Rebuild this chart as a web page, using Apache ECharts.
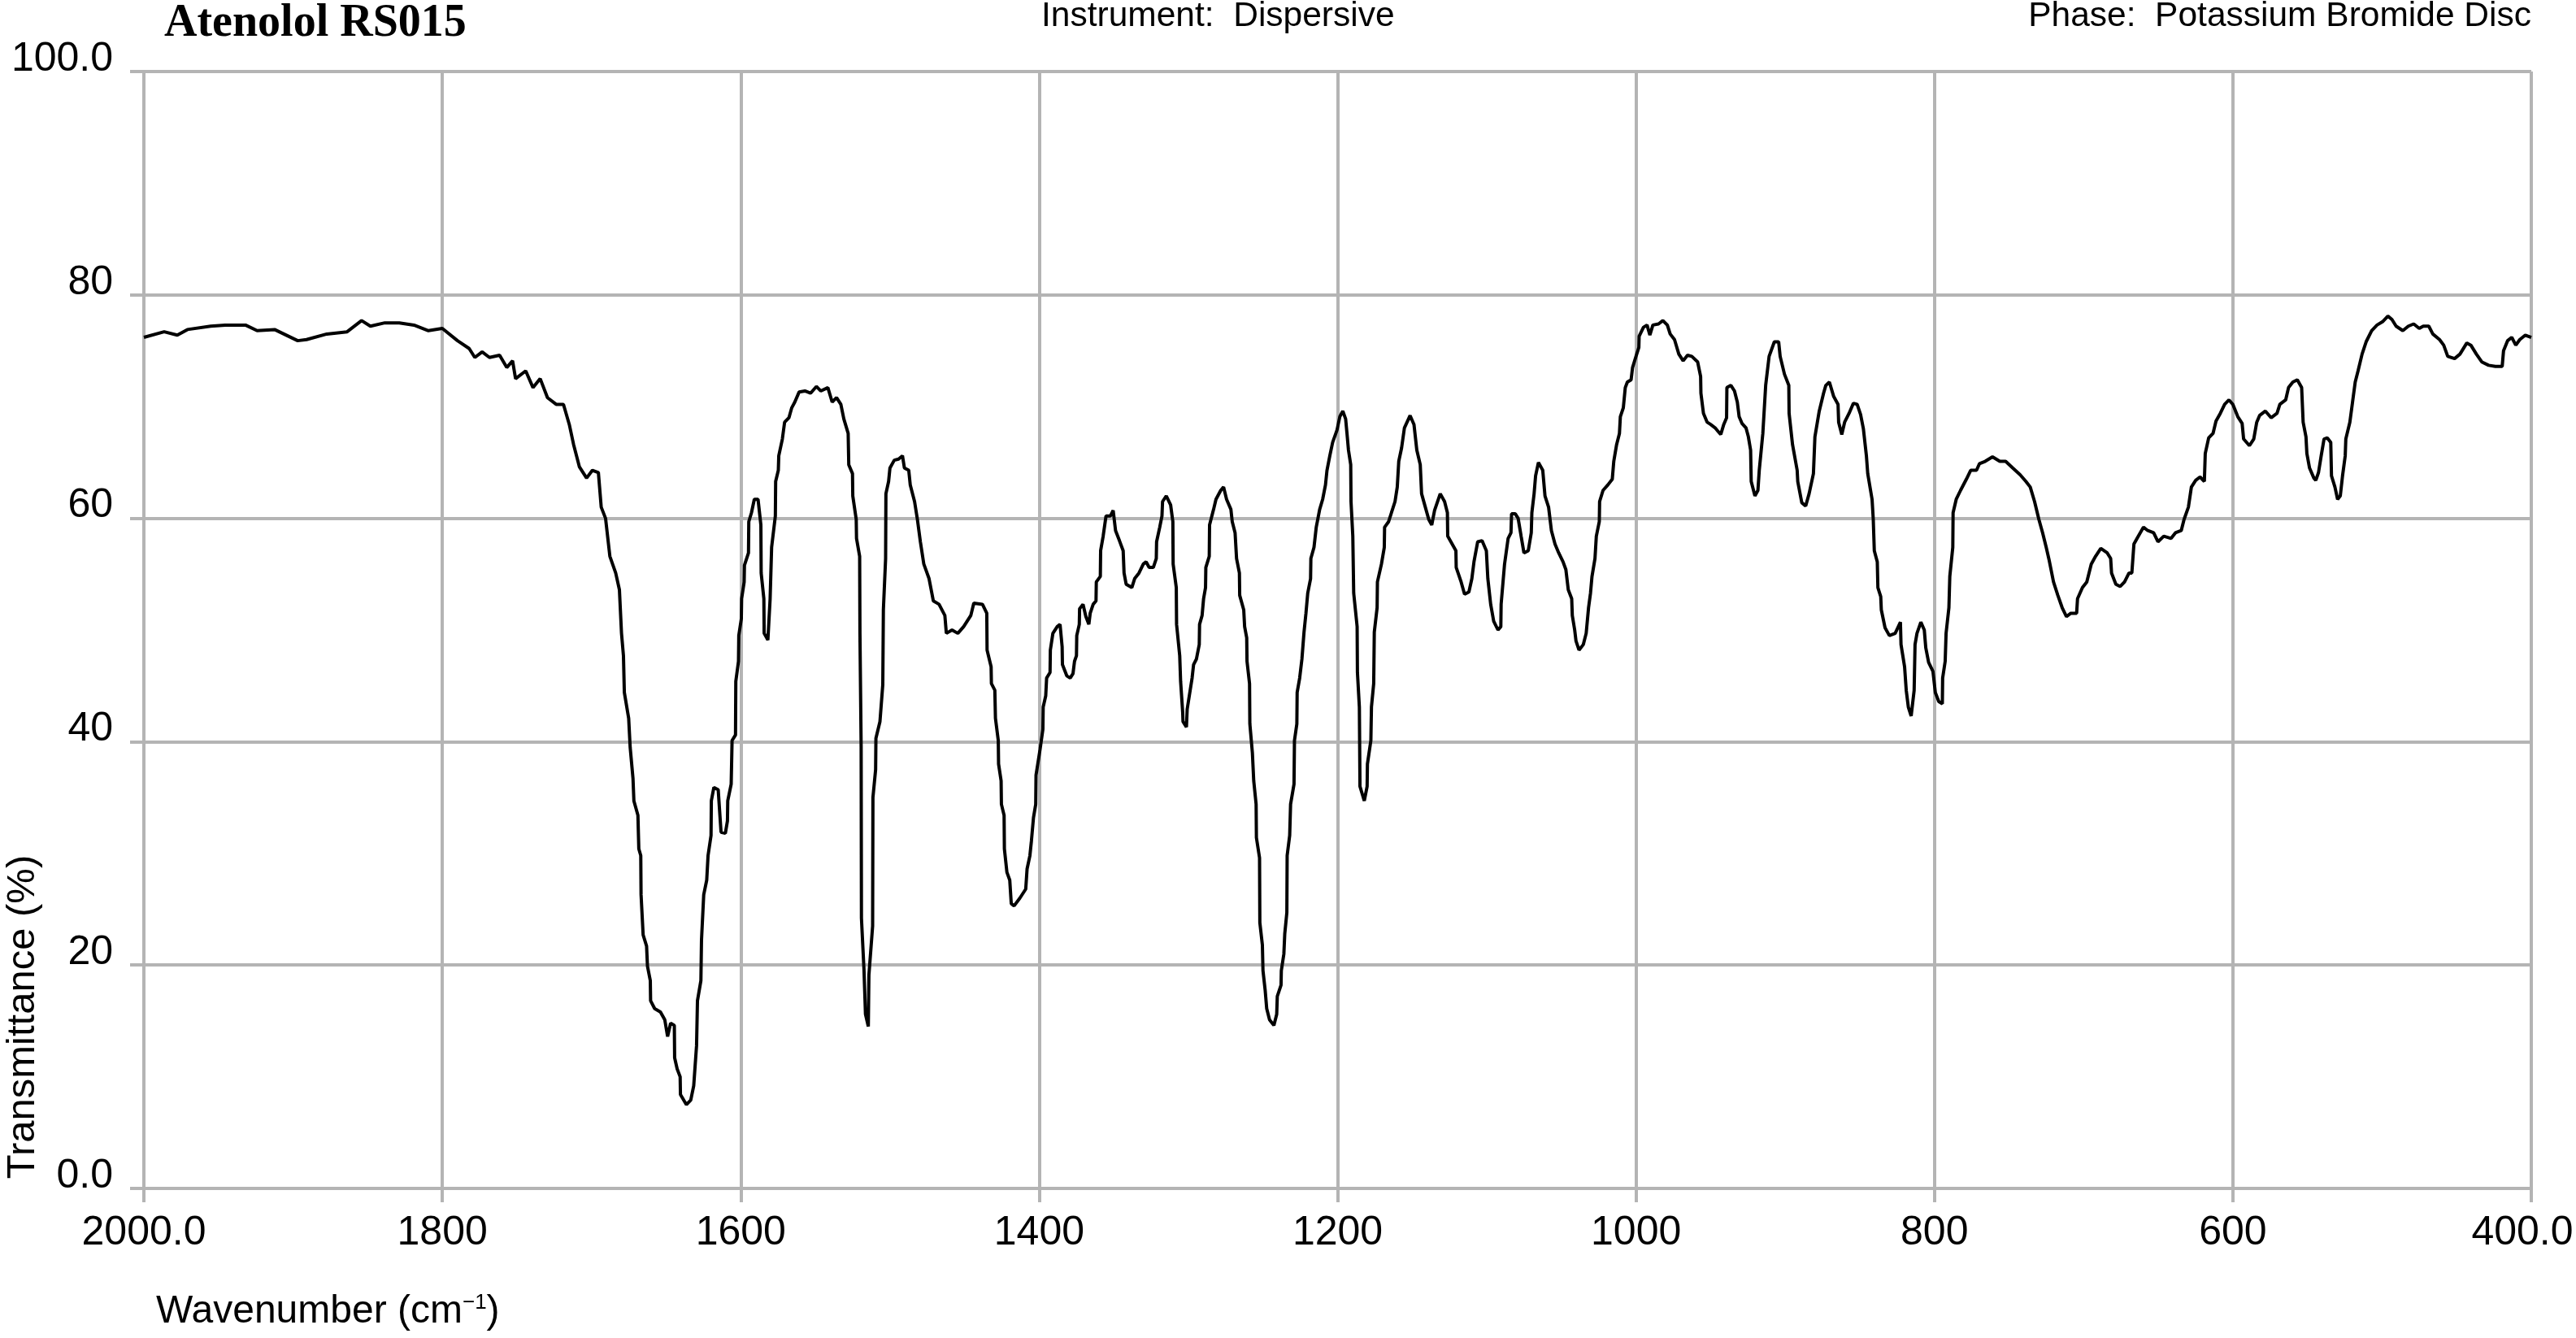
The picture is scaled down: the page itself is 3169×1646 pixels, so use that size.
<!DOCTYPE html>
<html>
<head>
<meta charset="utf-8">
<script src="https://cdn.jsdelivr.net/npm/echarts@6/dist/echarts.min.js"></script>
<style>
html,body{margin:0;padding:0;background:#fff;overflow:hidden;}
#chart{width:3169px;height:1646px;}
</style>
</head>
<body>
<div id="chart"></div>
<script>
// ---- Data ----
const titleText = 'Atenolol RS015';
const instrumentText = 'Instrument:  Dispersive';
const phaseText = 'Phase:  Potassium Bromide Disc';
const xTitle = 'Wavenumber (cm';
const yTitle = 'Transmittance (%)';
const xTicks = [2000, 1800, 1600, 1400, 1200, 1000, 800, 600, 400];
const yTicks = [0, 20, 40, 60, 80, 100];

const wavenumber = [
2000, 1986.4, 1977.6, 1970.8, 1955.2, 1945.5, 1931.9, 1924.1, 1912.4, 1896.9,
1891.0, 1877.4, 1863.8, 1854.1, 1848.2, 1838.5, 1828.8, 1819.0, 1809.3, 1800,
1789.8, 1782.0, 1778.2, 1773.3, 1768.4, 1761.6, 1756.8, 1752.9, 1750.9, 1744.1,
1739.2, 1734.4, 1729.5, 1723.7, 1718.8, 1714.9, 1712.0, 1708.1, 1703.3, 1699.4,
1695.4, 1693.5, 1690.6, 1687.7, 1683.8, 1681.3, 1679.9, 1678.6, 1678.0, 1675.1,
1674.1, 1672.2, 1671.6, 1668.9, 1668.3, 1667.0, 1666.8, 1665.4, 1663.1, 1662.5,
1660.6, 1660.4, 1657.7, 1653.8, 1650.9, 1649.0, 1647.0, 1644.5, 1644.3, 1642.6,
1640.6, 1640.4, 1636.4, 1633.5, 1631.5, 1629.6, 1629.0, 1626.7, 1626.3, 1624.8,
1622.8, 1621.9, 1619.9, 1619.7, 1618.0, 1615.1, 1613.2, 1610.3, 1608.9, 1608.7,
1606.4, 1605.8, 1603.5, 1603.3, 1601.5, 1601.3, 1599.6, 1599.4, 1597.7, 1597.5,
1594.8, 1594.6, 1592.8, 1590.9, 1588.4, 1586.5, 1586.3, 1584.5, 1584.3, 1581.8,
1580.3, 1579.3, 1576.8, 1576.6, 1574.8, 1574.5, 1572.1, 1570.6, 1567.7, 1565.8,
1563.8, 1560.9, 1557.0, 1553.2, 1549.3, 1546.4, 1541.6, 1538.7, 1535.8, 1532.9,
1530.9, 1528.0, 1527.6, 1525.1, 1524.9, 1522.6, 1522.4, 1520.3, 1520.1, 1519.3,
1519.1, 1517.4, 1516.4, 1514.5, 1514.1, 1511.6, 1511.4, 1509.6, 1509.4, 1506.7,
1504.8, 1504.4, 1502.9, 1502.7, 1500.9, 1500.0, 1497.1, 1494.2, 1491.6, 1490.3,
1487.4, 1486.4, 1483.5, 1481.6, 1479.6, 1477.3, 1473.8, 1470.9, 1467.1, 1463.2,
1462.2, 1458.4, 1454.5, 1450.6, 1445.8, 1443.8, 1438.0, 1435.1, 1434.9, 1432.2,
1432.0, 1429.7, 1429.3, 1427.4, 1427.2, 1425.5, 1425.3, 1423.5, 1423.3, 1421.6,
1419.7, 1418.7, 1416.8, 1412.9, 1409.0, 1408.1, 1406.2, 1405.2, 1403.8, 1402.3,
1402.1, 1399.4, 1397.5, 1397.3, 1395.6, 1395.0, 1392.7, 1392.5, 1390.8, 1387.9,
1386.0, 1384.6, 1384.4, 1381.5, 1379.2, 1377.3, 1376.3, 1375.0, 1374.8, 1373.1,
1372.9, 1370.6, 1368.7, 1366.7, 1365.8, 1363.8, 1361.9, 1361.7, 1359.0, 1358.8,
1357.1, 1355.2, 1352.3, 1350.4, 1348.8, 1346.2, 1343.7, 1343.1, 1341.7, 1337.9,
1336.0, 1333.1, 1330.2, 1328.3, 1326.3, 1323.5, 1321.5, 1321.3, 1319.2, 1317.7,
1317.3, 1314.8, 1311.9, 1310.4, 1310.2, 1308.1, 1307.9, 1305.8, 1305.2, 1303.8,
1303.6, 1301.3, 1300.8, 1298.8, 1297.5, 1296.5, 1294.6, 1292.7, 1292.5, 1290.8,
1289.8, 1288.5, 1288.3, 1286.0, 1285.8, 1283.1, 1281.5, 1278.3, 1276.4, 1274.4,
1271.5, 1270.6, 1268.7, 1267.7, 1265.8, 1265.6, 1262.9, 1262.3, 1260.9, 1260.7,
1259.0, 1258.8, 1257.1, 1256.2, 1254.6, 1254.4, 1252.3, 1252.1, 1250.4, 1250.0,
1248.5, 1247.5, 1245.6, 1242.7, 1240.8, 1240.4, 1237.9, 1237.7, 1236.0, 1235.4,
1234.0, 1233.8, 1232.1, 1231.5, 1229.2, 1228.9, 1227.3, 1227.1, 1225.4, 1223.9,
1222.5, 1221.2, 1220.0, 1218.1, 1217.9, 1215.8, 1214.3, 1212.0, 1210.0, 1208.1,
1207.1, 1205.2, 1203.3, 1200.4, 1198.5, 1196.5, 1194.6, 1193.7, 1192.7, 1191.2,
1191.0, 1189.8, 1189.2, 1186.9, 1186.7, 1185.4, 1185.0, 1182.1, 1180.2, 1180.0,
1177.7, 1177.3, 1175.8, 1175.4, 1173.5, 1173.3, 1170.6, 1168.7, 1168.5, 1165.8,
1163.9, 1161.5, 1160.0, 1159.0, 1157.1, 1155.2, 1151.4, 1148.8, 1146.9, 1144.6,
1143.7, 1141.2, 1138.9, 1136.9, 1135.0, 1131.2, 1128.3, 1126.4, 1126.2, 1120.7,
1120.5, 1117.2, 1114.9, 1112.0, 1110.0, 1108.6, 1106.1, 1103.2, 1100.3, 1099.3,
1097.4, 1095.4, 1092.5, 1090.6, 1090.4, 1088.1, 1085.7, 1083.8, 1083.4, 1080.9,
1079.0, 1077.0, 1075.1, 1072.2, 1070.2, 1069.8, 1068.3, 1067.3, 1065.4, 1062.5,
1061.0, 1058.6, 1056.7, 1054.3, 1051.8, 1048.9, 1047.0, 1045.4, 1043.1, 1042.7,
1041.1, 1040.2, 1038.2, 1035.3, 1033.4, 1031.8, 1030.5, 1029.5, 1027.5, 1026.6,
1024.6, 1024.4, 1022.1, 1018.8, 1015.9, 1014.9, 1013.0, 1011.1, 1010.5, 1008.5,
1007.2, 1005.8, 1003.3, 1002.3, 1000, 998.1, 997.9, 995.0, 992.6, 990.7,
988.7, 984.9, 982.0, 979.0, 977.1, 974.2, 971.3, 968.4, 965.5, 962.6,
958.7, 956.7, 956.5, 954.8, 952.3, 950.0, 947.0, 945.1, 943.2, 941.2,
939.3, 939.1, 936.4, 934.0, 932.1, 930.9, 929.0, 926.3, 924.7, 923.2,
922.8, 920.3, 918.3, 917.4, 915.0, 913.1, 910.8, 907.3, 904.4, 903.4,
900.5, 897.6, 897.4, 895.1, 892.0, 891.6, 888.9, 886.3, 884.0, 881.1,
880.1, 877.2, 874.3, 872.8, 870.4, 867.5, 864.6, 864.2, 862.1, 860.2,
857.2, 854.3, 851.8, 849.5, 847.6, 845.6, 844.7, 841.8, 841.0, 840.3,
838.3, 837.9, 836.0, 835.6, 833.1, 830.2, 826.3, 822.8, 822.4, 820.0,
818.9, 817.5, 815.6, 813.6, 813.0, 811.7, 809.1, 806.8, 805.8, 803.9,
801.0, 799.4, 797.1, 794.7, 794.5, 792.8, 792.2, 790.3, 789.7, 787.7,
787.5, 785.4, 782.5, 778.6, 775.7, 771.8, 769.8, 766.0, 761.1, 756.2,
752.3, 747.5, 742.6, 738.7, 735.8, 732.9, 730.0, 727.5, 725.1, 723.2,
720.2, 717.3, 714.4, 711.5, 708.6, 704.7, 704.1, 700.8, 697.9, 694.9,
692.0, 688.5, 684.2, 681.9, 681.3, 678.4, 675.5, 672.6, 669.6, 667.7,
666.3, 663.8, 659.9, 657.0, 653.1, 650.2, 646.3, 641.4, 638.5, 634.6,
632.7, 629.8, 627.8, 624.9, 622.0, 619.1, 618.5, 616.2, 613.3, 611.3,
608.4, 605.5, 602.6, 600, 596.7, 593.8, 592.8, 588.9, 586.0, 584.0,
582.1, 578.2, 574.3, 570.4, 568.5, 564.6, 562.7, 559.8, 556.8, 553.9,
552.9, 551.0, 550.4, 548.6, 545.7, 544.4, 542.6, 540.8, 538.9, 536.7,
534.4, 533.9, 531.6, 529.8, 528.0, 526.5, 524.7, 524.3, 521.6, 519.8,
518.0, 516.1, 513.4, 510.7, 507.0, 503.4, 499.7, 496.1, 493.4, 490.6,
486.1, 482.4, 478.8, 475.1, 472.4, 468.7, 466.0, 461.5, 458.7, 456.0,
451.4, 447.8, 443.2, 440.5, 436.8, 433.2, 428.6, 424.1, 419.5, 418.6,
415.9, 413.1, 410.4, 407.7, 404.0, 400
];

const transmittance = [
76.2, 76.7, 76.4, 76.9, 77.2, 77.3, 77.3, 76.8, 76.9, 75.9,
76.0, 76.5, 76.7, 77.7, 77.2, 77.5, 77.5, 77.3, 76.8, 77.0,
75.9, 75.2, 74.4, 74.9, 74.4, 74.6, 73.5, 74.1, 72.5, 73.2,
71.7, 72.5, 70.8, 70.2, 70.2, 68.4, 66.6, 64.6, 63.6, 64.3,
64.1, 61.0, 60.0, 56.6, 55.1, 53.6, 49.7, 47.7, 44.4, 42.1,
39.5, 36.7, 34.7, 33.4, 30.4, 29.8, 26.3, 22.7, 21.7, 19.9,
18.6, 16.8, 16.1, 15.8, 15.1, 13.6, 14.8, 14.6, 11.7, 10.7,
10.0, 8.4, 7.5, 7.9, 9.2, 12.8, 16.8, 18.6, 22.2, 26.3,
27.6, 29.8, 31.6, 34.7, 35.9, 35.7, 31.9, 31.8, 32.9, 34.7,
36.2, 40.1, 40.6, 45.4, 47.2, 49.5, 51.0, 52.8, 54.3, 55.8,
56.9, 59.7, 60.5, 61.7, 61.7, 59.4, 55.1, 52.8, 49.7, 49.1,
52.8, 57.4, 60.2, 63.3, 64.3, 65.6, 67.1, 68.6, 69.0, 69.9,
70.4, 71.3, 71.4, 71.2, 71.8, 71.4, 71.7, 70.4, 70.8, 70.2,
68.9, 67.6, 64.8, 64.0, 62.0, 59.9, 58.2, 56.6, 49.7, 39.5,
24.2, 19.6, 15.6, 14.5, 19.1, 23.5, 35.0, 37.5, 40.3, 41.8,
45.1, 51.8, 56.4, 62.2, 63.3, 64.5, 65.2, 65.3, 65.6, 64.5,
64.3, 63.0, 61.5, 59.9, 57.9, 55.9, 54.6, 52.6, 52.3, 51.3,
49.7, 50.0, 49.7, 50.3, 51.3, 52.4, 52.3, 51.5, 48.2, 46.7,
45.2, 44.6, 42.1, 40.1, 38.0, 36.5, 34.4, 33.4, 30.4, 28.3,
27.6, 25.5, 25.3, 26.0, 26.8, 28.6, 29.8, 31.1, 33.2, 34.4,
37.0, 39.3, 41.1, 43.1, 44.1, 45.7, 46.2, 48.2, 49.7, 50.3,
50.5, 48.5, 46.9, 45.9, 45.7, 46.1, 47.2, 47.7, 49.5, 50.5,
51.9, 52.3, 51.2, 50.5, 51.5, 52.3, 52.6, 54.3, 54.8, 57.1,
58.4, 60.2, 60.2, 60.7, 58.9, 58.0, 57.1, 55.1, 54.1, 53.8,
54.6, 55.1, 55.9, 56.1, 55.6, 55.6, 56.4, 57.9, 59.2, 60.2,
61.5, 62.0, 61.2, 59.7, 55.9, 53.8, 50.5, 47.7, 45.4, 42.6,
41.8, 41.3, 42.9, 44.6, 45.7, 46.9, 47.4, 48.7, 50.5, 51.3,
52.8, 53.8, 55.6, 56.6, 59.4, 60.8, 61.7, 62.5, 62.8, 61.7,
60.8, 59.7, 58.7, 56.4, 55.1, 53.1, 51.8, 50.3, 49.3, 47.2,
45.2, 41.6, 39.0, 36.5, 34.4, 31.4, 29.6, 23.8, 21.8, 19.5,
17.7, 16.1, 15.1, 14.6, 15.6, 17.2, 18.2, 19.5, 21.0, 22.8,
24.7, 29.8, 31.6, 34.4, 36.2, 40.1, 41.6, 44.4, 45.7, 47.4,
49.8, 51.5, 53.3, 54.6, 56.4, 57.4, 59.2, 60.8, 61.7, 63.0,
64.3, 65.6, 66.8, 67.9, 69.1, 69.6, 68.9, 67.6, 66.1, 64.8,
61.5, 58.4, 53.3, 50.3, 46.2, 43.1, 36.0, 34.7, 36.0, 38.0,
40.1, 43.1, 45.2, 49.8, 52.0, 54.3, 55.9, 57.4, 59.2, 59.7,
60.5, 61.5, 62.8, 65.1, 66.3, 68.1, 69.2, 68.4, 66.1, 64.8,
62.2, 61.0, 59.9, 59.4, 60.7, 62.2, 61.5, 60.5, 58.4, 57.1,
55.6, 54.3, 53.2, 53.4, 54.6, 56.1, 57.9, 58.0, 57.1, 54.6,
52.3, 50.8, 50.0, 50.3, 52.3, 55.9, 58.2, 58.7, 60.4, 60.4,
60.0, 58.4, 56.9, 57.1, 58.7, 60.5, 62.2, 63.8, 65.0, 64.3,
62.0, 61.0, 58.9, 57.7, 56.9, 56.1, 55.4, 53.6, 52.8, 51.3,
50.0, 49.0, 48.2, 48.7, 49.7, 52.0, 53.3, 54.8, 56.4, 58.4,
59.7, 61.5, 62.5, 63.0, 63.5, 65.1, 66.6, 67.6, 69.1, 69.9,
71.7, 72.2, 72.4, 73.5, 74.5, 75.3, 76.3, 77.1, 77.3, 76.4,
77.3, 77.4, 77.7, 77.3, 76.5, 76.0, 74.7, 74.1, 74.6, 74.5,
74.0, 72.7, 71.2, 69.4, 68.6, 68.4, 68.1, 67.8, 67.5, 68.4,
69.0, 71.7, 71.9, 71.4, 70.4, 69.1, 68.5, 68.1, 67.3, 66.1,
63.3, 62.0, 62.5, 64.3, 67.6, 71.9, 74.5, 75.8, 75.8, 74.5,
72.9, 71.9, 69.4, 66.6, 64.3, 63.3, 61.4, 61.1, 62.2, 64.0,
67.3, 69.6, 71.2, 71.9, 72.2, 70.9, 70.2, 68.6, 67.5, 68.6,
69.4, 70.3, 70.2, 69.3, 68.0, 65.6, 64.0, 61.7, 59.9, 57.1,
56.1, 53.8, 53.0, 51.8, 50.2, 49.5, 49.7, 50.7, 48.7, 46.7,
44.6, 43.1, 42.3, 44.6, 48.7, 49.7, 50.7, 50.0, 48.4, 47.1,
46.3, 44.4, 43.6, 43.4, 45.7, 47.2, 49.7, 52.0, 54.8, 57.4,
60.5, 61.7, 62.5, 63.5, 64.3, 64.3, 64.9, 65.1, 65.5, 65.1,
65.1, 64.5, 63.9, 63.3, 62.8, 61.5, 59.9, 58.7, 57.4, 56.3,
54.3, 53.1, 52.0, 51.2, 51.5, 51.5, 52.8, 53.8, 54.3, 55.9,
56.6, 57.3, 56.9, 56.4, 55.1, 54.1, 53.9, 54.3, 55.1, 55.1,
57.7, 58.3, 59.2, 58.9, 58.7, 57.9, 58.4, 58.2, 58.7, 58.9,
59.9, 61.0, 62.8, 63.4, 63.7, 63.3, 65.8, 67.2, 67.6, 68.7,
69.4, 70.2, 70.6, 70.2, 69.1, 68.5, 67.1, 66.5, 67.1, 68.6,
69.2, 69.6, 69.0, 69.4, 70.2, 70.6, 71.7, 72.2, 72.4, 71.7,
68.6, 67.3, 65.8, 64.5, 63.6, 63.4, 64.1, 65.6, 67.1, 67.2,
66.8, 63.8, 62.8, 61.7, 62.0, 63.8, 65.6, 67.1, 68.6, 70.4,
72.2, 73.2, 74.7, 75.8, 76.8, 77.3, 77.6, 78.1, 77.8, 77.2,
76.8, 77.2, 77.4, 77.0, 77.2, 77.2, 76.5, 76.0, 75.5, 74.5,
74.3, 74.7, 75.7, 75.5, 74.7, 74.0, 73.7, 73.6, 73.6, 75.0,
75.9, 76.2, 75.5, 76.0, 76.4, 76.2
];

// ---- Chart ----
const gridColor = '#b4b4b4';
const sansFont = '"Liberation Sans", Arial, sans-serif';
const seriesData = wavenumber.map((w, i) => [w, transmittance[i]]);

const chart = echarts.init(document.getElementById('chart'), null, {renderer: 'canvas'});
chart.setOption({
  animation: false,
  backgroundColor: '#ffffff',
  grid: {left: 177, top: 88, width: 2937, height: 1374, containLabel: false, outerBoundsMode: 'none'},
  xAxis: {
    type: 'value', min: xTicks[xTicks.length - 1], max: xTicks[0], interval: 200, inverse: true,
    axisLine: {show: true, onZero: false, lineStyle: {color: gridColor, width: 4}},
    axisTick: {show: true, inside: false, length: 17, lineStyle: {color: gridColor, width: 4}},
    splitLine: {show: true, lineStyle: {color: gridColor, width: 4}},
    axisLabel: {
      margin: 30, color: '#000', fontSize: 50, fontFamily: sansFont,
      formatter: v => v === 400 ? '{last|400.0}' : (v === 2000 ? v.toFixed(1) : String(v)),
      rich: {last: {fontSize: 50, fontFamily: sansFont, color: '#000', padding: [0, 22, 0, 0]}}
    }
  },
  yAxis: {
    type: 'value', min: yTicks[0], max: yTicks[yTicks.length - 1], interval: 20,
    axisLine: {show: true, onZero: false, lineStyle: {color: gridColor, width: 4}},
    axisTick: {show: true, inside: false, length: 17, lineStyle: {color: gridColor, width: 4}},
    splitLine: {show: true, lineStyle: {color: gridColor, width: 4}},
    axisLabel: {
      margin: 38, color: '#000', fontSize: 50, fontFamily: sansFont,
      verticalAlign: 'bottom', lineHeight: 30,
      formatter: v => (v === 0 || v === 100) ? v.toFixed(1) : String(v)
    }
  },
  graphic: [
    {type: 'text', x: 202, y: 30, style: {text: titleText, font: 'bold 56px "Liberation Serif", serif', fill: '#000', align: 'left', verticalAlign: 'middle'}},
    {type: 'text', x: 1281, y: 20, style: {text: instrumentText, font: '42.5px ' + sansFont, fill: '#000', align: 'left', verticalAlign: 'middle'}},
    {type: 'text', x: 3114, y: 20, style: {text: phaseText, font: '42.5px ' + sansFont, fill: '#000', align: 'right', verticalAlign: 'middle'}},
    {type: 'text', x: 28, y: 1251, rotation: Math.PI / 2, style: {text: yTitle, font: '49px ' + sansFont, fill: '#000', align: 'center', verticalAlign: 'middle'}},
    {type: 'text', x: 192, y: 1614, style: {
      text: '{n|' + xTitle + '}{s|\u22121}{n|)}', fill: '#000', align: 'left', verticalAlign: 'middle',
      rich: {
        n: {fontSize: 48, fontFamily: sansFont, fill: '#000'},
        s: {fontSize: 26, fontFamily: sansFont, fill: '#000', verticalAlign: 'top'}
      }
    }}
  ],
  series: [{
    type: 'line', data: seriesData, showSymbol: false, symbol: 'none',
    lineStyle: {color: '#000', width: 4}, z: 5
  }]
});
</script>
</body>
</html>
